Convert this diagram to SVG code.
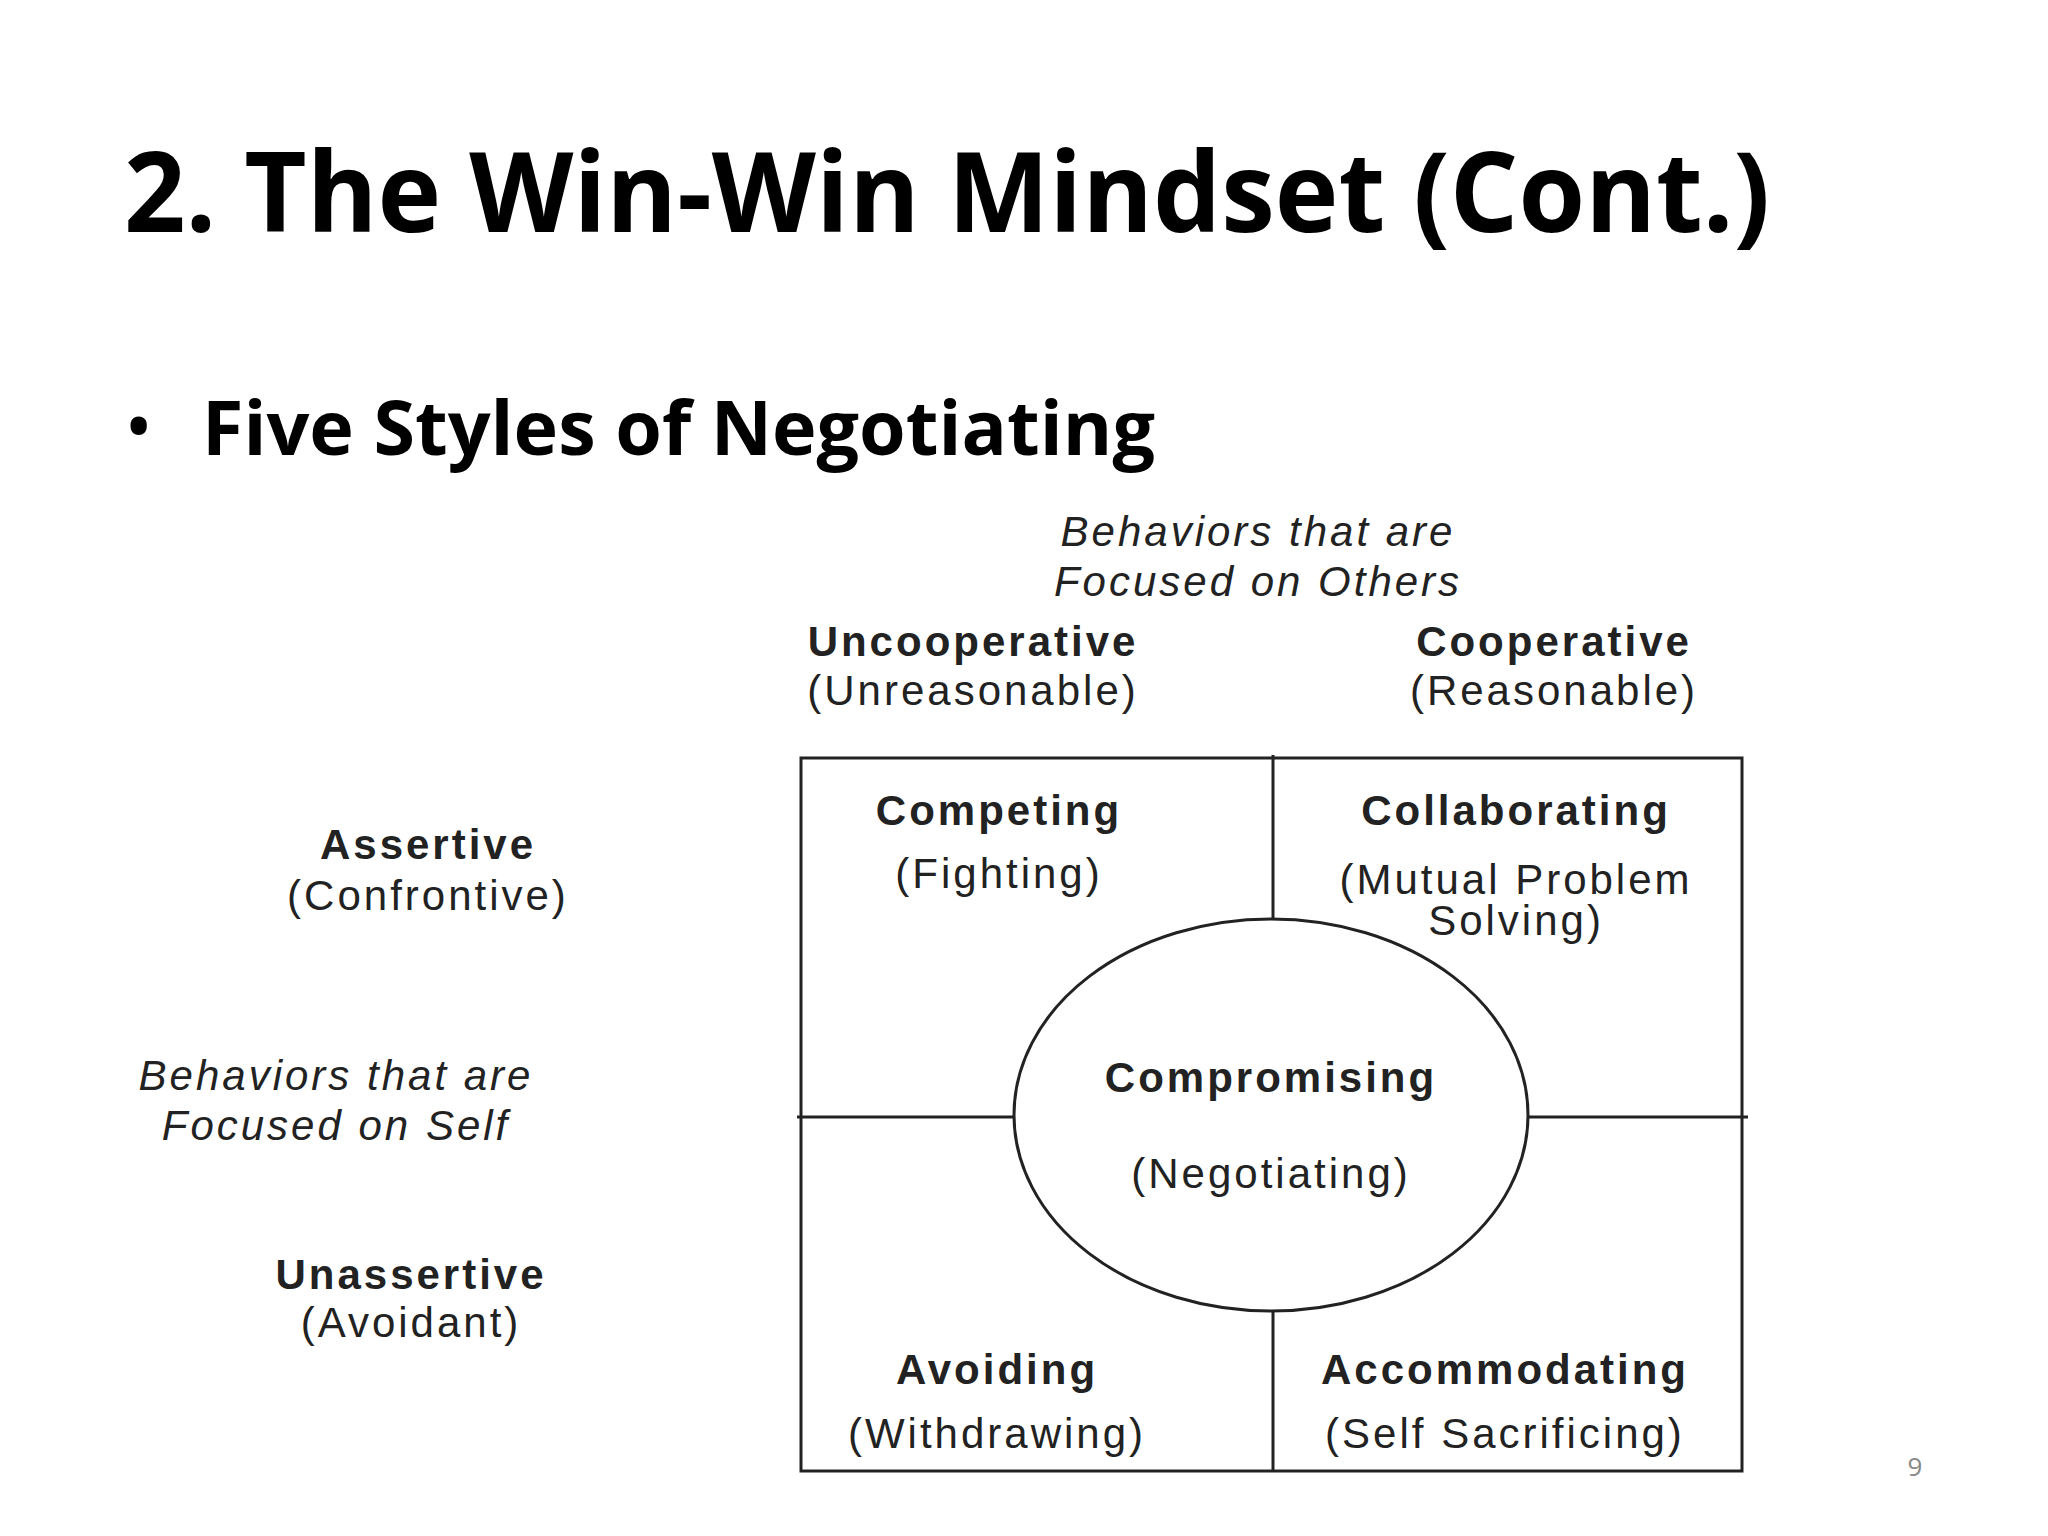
<svg xmlns="http://www.w3.org/2000/svg" width="2048" height="1536" viewBox="0 0 2048 1536">
<style>
.t{font-family:"Liberation Sans",Arial,sans-serif;fill:#222;text-anchor:middle;font-size:42px;letter-spacing:3px}
.b{font-weight:bold}
.i{font-style:italic}
.ln{stroke:#222;stroke-width:3;fill:none}
</style>
<rect width="2048" height="1536" fill="#fff"/>
<text x="124" y="232" font-family="'Open Sans','Liberation Sans',sans-serif" font-weight="bold" font-size="112" fill="#000" textLength="1646" lengthAdjust="spacingAndGlyphs">2. The Win-Win Mindset (Cont.)</text>
<text x="124" y="455" font-family="'Open Sans','Liberation Sans',sans-serif" font-size="78" fill="#000">•</text>
<text x="202" y="455" font-family="'Open Sans','Liberation Sans',sans-serif" font-weight="bold" font-size="76" fill="#000" textLength="953" lengthAdjust="spacingAndGlyphs">Five Styles of Negotiating</text>
<g id="connectors">
<rect class="ln" x="801" y="758" width="941" height="713"/>
<line class="ln" x1="1273" y1="755" x2="1273" y2="920"/>
<line class="ln" x1="1273" y1="1310" x2="1273" y2="1471"/>
<line class="ln" x1="797" y1="1117" x2="1015" y2="1117"/>
<line class="ln" x1="1527" y1="1117" x2="1748" y2="1117"/>
</g>
<g id="top-label"><text class="t i" x="1258" y="546">Behaviors that are</text><text class="t i" x="1258" y="596">Focused on Others</text></g>
<g id="uncooperative"><text class="t b" x="973" y="656">Uncooperative</text><text class="t" x="973" y="705">(Unreasonable)</text></g>
<g id="cooperative"><text class="t b" x="1554" y="656">Cooperative</text><text class="t" x="1554" y="705">(Reasonable)</text></g>
<g id="competing"><text class="t b" x="999" y="825">Competing</text><text class="t" x="999" y="888">(Fighting)</text></g>
<g id="collaborating"><text class="t b" x="1516" y="825">Collaborating</text><text class="t" x="1516" y="894">(Mutual Problem</text><text class="t" x="1516" y="935">Solving)</text></g>
<g id="compromising"><ellipse class="ln" cx="1271" cy="1115" rx="257" ry="196" stroke-width="2.5"/><text class="t b" x="1271" y="1092">Compromising</text><text class="t" x="1271" y="1188">(Negotiating)</text></g>
<g id="avoiding"><text class="t b" x="997" y="1384">Avoiding</text><text class="t" x="997" y="1448">(Withdrawing)</text></g>
<g id="accommodating"><text class="t b" x="1505" y="1384">Accommodating</text><text class="t" x="1505" y="1448">(Self Sacrificing)</text></g>
<g id="assertive"><text class="t b" x="428" y="859">Assertive</text><text class="t" x="428" y="910">(Confrontive)</text></g>
<g id="left-label"><text class="t i" x="336" y="1090">Behaviors that are</text><text class="t i" x="336" y="1140">Focused on Self</text></g>
<g id="unassertive"><text class="t b" x="411" y="1289">Unassertive</text><text class="t" x="411" y="1337">(Avoidant)</text></g>
<text x="1915" y="1476" font-family="'Open Sans','Liberation Sans',sans-serif" font-size="26" fill="#888" text-anchor="middle">9</text>
</svg>
